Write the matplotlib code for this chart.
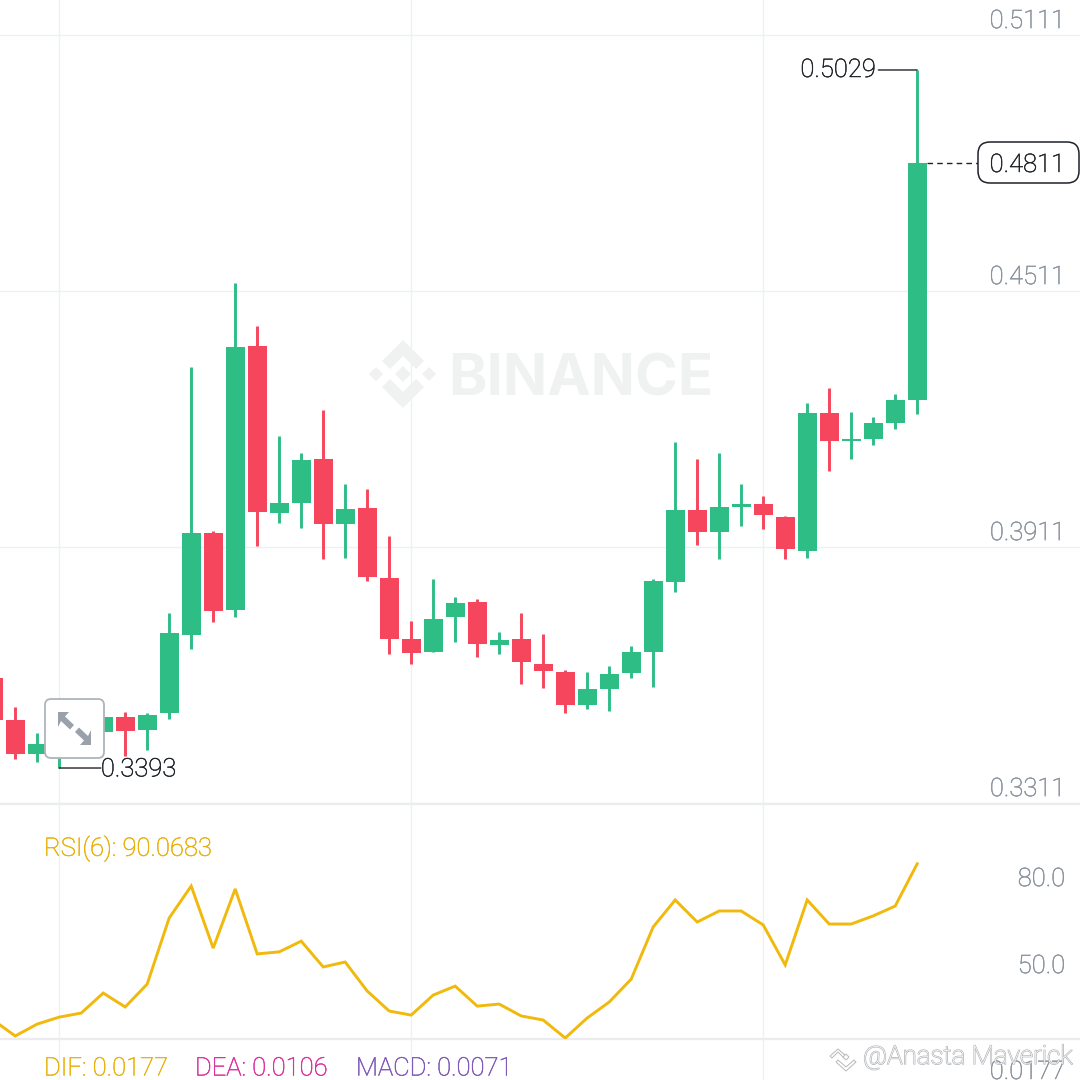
import matplotlib
matplotlib.use("Agg")
import matplotlib.pyplot as plt
import matplotlib.patheffects as pe
from matplotlib.patches import FancyBboxPatch, Polygon

GREEN = "#2EBD85"
RED = "#F6465D"
GRID = "#EFF0F2"
SEP = "#EAECEF"
GREY = "#8A929D"
DARK = "#1E2329"
YELLOW = "#F0B90B"

opens = [0.3604, 0.3506, 0.3426, 0.3431, 0.3459, 0.3477, 0.3513, 0.3482, 0.3522, 0.3705, 0.3944,
         0.3763, 0.4382, 0.3991, 0.4014, 0.4117, 0.3965, 0.4002, 0.3838, 0.3695, 0.3665, 0.3747,
         0.3782, 0.3681, 0.3695, 0.3637, 0.3618, 0.3541, 0.3578, 0.3616, 0.3665, 0.3829, 0.3998,
         0.3946, 0.4005, 0.4012, 0.3981, 0.3902, 0.4225, 0.4159, 0.4164, 0.4202, 0.4256]
closes = [0.3506, 0.3426, 0.3449, 0.3459, 0.3491, 0.3513, 0.3480, 0.3517, 0.3709, 0.3944, 0.3761,
          0.4380, 0.3993, 0.4014, 0.4115, 0.3965, 0.4000, 0.3841, 0.3695, 0.3663, 0.3742, 0.3780,
          0.3684, 0.3693, 0.3642, 0.3620, 0.3541, 0.3578, 0.3613, 0.3665, 0.3831, 0.3998, 0.3946,
          0.4005, 0.4012, 0.3986, 0.3906, 0.4225, 0.4159, 0.4164, 0.4202, 0.4256, 0.4811]
highs = [0.3604, 0.3536, 0.3475, 0.3482, 0.3501, 0.3513, 0.3524, 0.3522, 0.3756, 0.4333, 0.3949,
         0.4530, 0.4429, 0.4171, 0.4131, 0.4232, 0.4059, 0.4047, 0.3937, 0.3738, 0.3836, 0.3794,
         0.3789, 0.3712, 0.3756, 0.3707, 0.3623, 0.3618, 0.3632, 0.3679, 0.3836, 0.4157, 0.4117,
         0.4131, 0.4059, 0.4031, 0.3984, 0.4249, 0.4284, 0.4227, 0.4216, 0.4270, 0.5029]
lows = [0.3506, 0.3414, 0.3407, 0.3393, 0.3449, 0.3477, 0.3421, 0.3435, 0.3508, 0.3672, 0.3735,
        0.3747, 0.3913, 0.3967, 0.3956, 0.3883, 0.3885, 0.3831, 0.3660, 0.3637, 0.3665, 0.3688,
        0.3653, 0.3660, 0.3590, 0.3581, 0.3522, 0.3531, 0.3527, 0.3604, 0.3583, 0.3806, 0.3916,
        0.3883, 0.3960, 0.3953, 0.3883, 0.3885, 0.4089, 0.4117, 0.4150, 0.4188, 0.4223]
rsi = [36.2, 30.7, 34.8, 37.2, 38.6, 45.5, 40.7, 48.6, 71.4, 82.4, 61.0, 81.4, 59.0, 59.7, 63.4,
       54.5, 56.2, 46.2, 39.3, 37.9, 44.8, 47.9, 41.0, 41.7, 37.6, 36.2, 30.0, 36.9, 42.4, 50.3,
       68.3, 77.6, 70.0, 73.8, 73.8, 69.0, 55.2, 77.6, 69.3, 69.3, 72.1, 75.5, 90.07]

price_ticks = [0.3311, 0.3911, 0.4511, 0.5111]
rsi_ticks = [50.0, 80.0]
time_ticks = [3, 19, 35]
last_price = 0.4811
macd_tick = "0.0177"

plt.rcParams["font.family"] = ["Roboto", "DejaVu Sans"]
plt.rcParams["font.weight"] = "light"

W = 1080
FS = 18.4
fig = plt.figure(figsize=(10.8, 10.8), dpi=100, facecolor="white")


def add_pane(top, bottom):
    return fig.add_axes([0, 1 - bottom / W, 1, (bottom - top) / W])


ax = add_pane(0, 804)
ax_rsi = add_pane(804, 1039)
ax_macd = add_pane(1039, 1080)

px_per_bar = 22
xlim = (6.8 / px_per_bar, (W + 6.8) / px_per_bar)
for a in (ax, ax_rsi, ax_macd):
    a.set_xlim(*xlim)
    a.set_xticks(time_ticks)
    a.set_xticklabels([])
    a.set_yticklabels([])
    a.tick_params(length=0)
    a.grid(axis="x", color=GRID, lw=1.0)
    a.set_axisbelow(True)
    a.patch.set_alpha(0)
    for s in ("left", "right", "top"):
        a.spines[s].set_visible(False)
    a.spines["bottom"].set_color(SEP)
    a.spines["bottom"].set_linewidth(1.6)
ax_macd.spines["bottom"].set_visible(False)

# price pane, 256 px = 0.06
ax.set_ylim(0.3311 - 0.06 / 256, 0.3311 + 803 * 0.06 / 256)
ax.set_yticks(price_ticks)
ax.set_yticklabels([])
ax.grid(axis="y", color=GRID, lw=1.0)

for i in range(len(opens)):
    col = GREEN if closes[i] >= opens[i] else RED
    ax.vlines(i, lows[i], highs[i], color=col, lw=2.1, capstyle="butt", zorder=3)
    ax.bar(i + 0.02, abs(closes[i] - opens[i]), bottom=min(opens[i], closes[i]), width=19.5 / px_per_bar,
           color=col, zorder=4)


def right_label(a, value, text):
    a.annotate(text, xy=(1065 / W, value), xycoords=a.get_yaxis_transform(), xytext=(0, 10),
               textcoords="offset points", ha="right", va="center", fontsize=FS, color=GREY)


for p in price_ticks:
    right_label(ax, p, "%.4f" % p)

# high / low / last markers
hi = highs.index(max(highs))
lo = lows.index(min(lows))
ax.annotate("%.4f" % highs[hi], xy=(hi, highs[hi]), xytext=(-30, 0), textcoords="offset points",
            ha="right", va="center", fontsize=FS, color=DARK,
            arrowprops=dict(arrowstyle="-", color=DARK, lw=1, shrinkA=0, shrinkB=0), zorder=6)
ax.annotate("", xy=(lo, lows[lo]), xytext=(30, 0), textcoords="offset points",
            arrowprops=dict(arrowstyle="-", color=DARK, lw=1, shrinkA=0, shrinkB=0), zorder=6)
ax.annotate("%.4f" % lows[lo], xy=(lo, lows[lo]), xytext=(30, -1), textcoords="offset points",
            ha="left", va="center", fontsize=FS, color=DARK, zorder=6)
ax.hlines(last_price, len(opens) - 1 + 10 / px_per_bar, (978 + 7) / px_per_bar, color=DARK, lw=1,
          linestyles=(0, (4, 3)), zorder=5)

# rsi pane, 2.9 px per point, 80 sits at y=893
ax_rsi.set_ylim(80 - (1039 - 893) / 2.9, 80 + (893 - 804) / 2.9)
ax_rsi.plot(range(len(rsi)), rsi, color=YELLOW, lw=2.1, solid_joinstyle="miter", zorder=3)
for v in rsi_ticks:
    right_label(ax_rsi, v, "%.1f" % v)

ax_macd.set_ylim(0, 1)
ax_macd.set_yticks([])

# overlay in pixel coordinates for the legends, watermark and button
ov = fig.add_axes([0, 0, 1, 1], zorder=10)
ov.set_xlim(0, W)
ov.set_ylim(W, 0)
ov.axis("off")
ov.patch.set_alpha(0)

ov.text(44, 848.5, "RSI(6): 90.0683", fontsize=FS, color="#E8B008", va="center")
ov.text(44, 1068.5, "DIF: 0.0177", fontsize=FS, color="#E8B008", va="center")
ov.text(195, 1068.5, "DEA: 0.0106", fontsize=FS, color="#DC2FA0", va="center")
ov.text(356, 1068.5, "MACD: 0.0071", fontsize=FS, color="#7E58B8", va="center")
ov.text(1065, 1072, macd_tick, fontsize=FS, color=GREY, va="center", ha="right")

# last price pill
ov.add_patch(FancyBboxPatch((978, 142), 101, 41, boxstyle="round,pad=0,rounding_size=12",
                            mutation_scale=1, fc="white", ec=DARK, lw=1.1))
ov.text(1065, 165, "%.4f" % last_price, fontsize=FS, color=DARK, va="center", ha="right")

# light Roboto comes out too pale, thicken it a touch
for a in fig.axes:
    for txt in a.texts:
        txt.set_path_effects([pe.withStroke(linewidth=0.35, foreground=txt.get_color())])

# expand button
ov.add_patch(FancyBboxPatch((45, 699), 59, 59, boxstyle="round,pad=0,rounding_size=6",
                            mutation_scale=1, fc="white", ec="#AEB4BC", lw=1.3))
ov.add_patch(Polygon([(58, 712), (69, 712), (65, 716.5), (74, 725), (70, 729.5), (61, 721), (58, 727)],
                     fc="#9BA1AB", ec="none"))
ov.add_patch(Polygon([(91, 745), (80, 745), (84, 740.5), (75, 732), (79, 727.5), (88, 736), (91, 730)],
                     fc="#9BA1AB", ec="none"))

# binance watermark
wm = "#F0F1F1"
for pts in ([(369, 374), (376, 367), (383, 374), (376, 381)],
            [(422, 374), (429, 367), (436, 374), (429, 381)],
            [(395, 374), (403, 366), (411, 374), (403, 382)],
            [(382, 361), (403, 340), (424, 361), (416, 369), (403, 356), (390, 369)],
            [(382, 387), (390, 379), (403, 392), (416, 379), (424, 387), (403, 408)]):
    ov.add_patch(Polygon(pts, fc=wm, ec="none", zorder=1))
ov.text(448, 380, "BINANCE", fontsize=41.8, color=wm, family="Inter", weight="bold", va="center",
        ha="left", zorder=1)

# small author watermark
t = ov.text(863, 1057, "@Anasta Maverick", fontsize=18.7, color="white", va="center", ha="left")
t.set_path_effects([pe.withStroke(linewidth=1.0, foreground="#B5B8BC")])
for pts in ([(832, 1058), (838, 1052), (844, 1058), (846, 1056), (838, 1049), (830, 1056)],
            [(836, 1062), (846, 1071), (856, 1062), (854, 1060), (846, 1067), (838, 1060)],
            [(843, 1057), (846, 1054), (849, 1057), (846, 1060)]):
    ov.add_patch(Polygon(pts, fc="white", ec="#B5B8BC", lw=0.7))

fig.savefig("out.png", dpi=100, facecolor="white")
